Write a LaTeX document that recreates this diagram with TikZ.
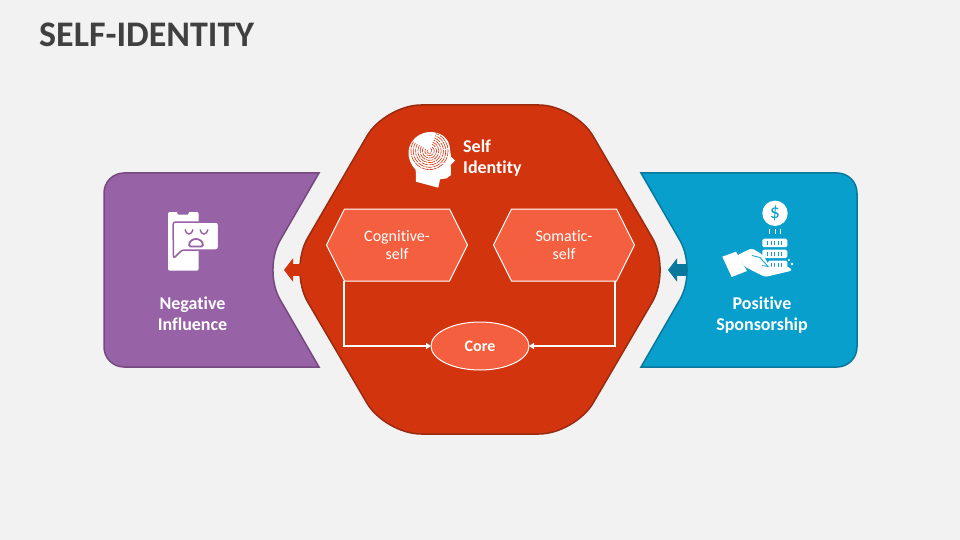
\documentclass[tikz,border=0pt]{standalone}
\usepackage{fontspec}
\setmainfont[Ligatures=NoCommon]{Carlito}
\usepackage{tikz}
\usetikzlibrary{arrows.meta}
\usetikzlibrary{shapes.geometric}
\usetikzlibrary{shapes.symbols}

\definecolor{pagegray}{HTML}{F2F2F2}
\definecolor{titlegray}{HTML}{404040}
\definecolor{selfred}{HTML}{D2340E}
\definecolor{selfedge}{HTML}{9A2A10}
\definecolor{innerred}{HTML}{F4603F}
\definecolor{negpurple}{HTML}{9762A6}
\definecolor{negedge}{HTML}{76497F}
\definecolor{posblue}{HTML}{089FCC}
\definecolor{posedge}{HTML}{0A789C}

\tikzset{
    sidelabel/.style={text=white, font=\fontsize{18}{21}\selectfont\bfseries, align=center},
    innerhex/.style={signal, signal to=west and east, signal pointer angle=127, draw=white, fill=innerred, line width=1pt,
        minimum width=141pt, minimum height=72pt, inner sep=0pt, outer sep=0pt, text=white,
        font=\fontsize{16}{18}\selectfont, align=center},
    link/.style={draw=white, line width=1.3pt, -{Triangle[length=5pt,width=6pt]}},
    bigarrow/.style={line width=12pt, -{Triangle[length=9pt,width=23pt]}},
}

\begin{document}
\begin{tikzpicture}[x=1pt, y=-1pt]

    \useasboundingbox (0,0) rectangle (960,540);
    \path[fill=pagegray] (0,0) rectangle (960,540);

    \node[anchor=west, inner sep=0pt, text=titlegray, font=\fontsize{36}{40}\selectfont\bfseries] (title) at (39,35) {SELF-IDENTITY};

    % draw the side panels
    \path[draw=negedge, fill=negpurple, line width=1.5pt] (319,173) [rounded corners=20pt] -- (104,173) -- (104,367) [rounded corners=0pt] -- (319,367) [rounded corners=34pt] -- (263,270) [rounded corners=0pt] -- cycle;
    \path[draw=posedge, fill=posblue, line width=1.5pt] (641,173) [rounded corners=20pt] -- (857,173) -- (857,367) [rounded corners=0pt] -- (641,367) [rounded corners=34pt] -- (697,270) [rounded corners=0pt] -- cycle;

    % draw the center hexagon
    \path[draw=selfedge, fill=selfred, line width=1.5pt] (480,105) [rounded corners=36pt] -- (385,105) [rounded corners=37pt] -- (289,270) [rounded corners=36pt] -- (385,434) -- (575,434) [rounded corners=37pt] -- (671,270) [rounded corners=36pt] -- (575,105) [rounded corners=0pt] -- cycle;

    % arrows between the hexagon and the panels
    \coordinate (selfwest) at (301,270);
    \coordinate (selfeast) at (687,270);
    \coordinate (negtip) at (284,270);
    \coordinate (postip) at (668,270);
    \draw[bigarrow, selfred] (selfwest) -- (negtip);
    \draw[bigarrow, posedge] (selfeast) -- (postip);

    \node[innerhex] (cog) at (397,245) {Cognitive-\\self};
    \node[innerhex] (som) at (564,245) {Somatic-\\self};
    \node[draw=white, fill=innerred, line width=1pt, ellipse, minimum width=98pt, minimum height=48pt, inner sep=0pt, outer sep=0pt, text=white, font=\fontsize{16}{18}\selectfont\bfseries] (core) at (480,346) {Core};

    \coordinate (cogfoot) at (344,281);
    \coordinate (somfoot) at (615,281);
    \draw[link] (cogfoot) |- (core);
    \draw[link] (somfoot) |- (core);

    \node[sidelabel, anchor=west, align=left, inner sep=0pt] (self) at (463,158) {Self\\Identity};
    \node[sidelabel] (neg) at (192.5,314) {Negative\\Influence};
    \node[sidelabel] (pos) at (762,315) {Positive\\Sponsorship};

    % head icon
    \path[fill=white] (408.5,152) .. controls (409,140) and (420,132) .. (430,132) .. controls (441,132) and (448,138) .. (449.5,146) -- (451,156.7) -- (455,160.7) -- (450.7,165) -- (451,175) -- (446.7,178.3) -- (440,179.3) -- (438.3,187.7) -- (416,181.7) -- (415.7,170) .. controls (411,165) and (408,158) .. (408.5,152) -- cycle;
    \foreach \rad/\dashoff in {2.5/0,4.8/1,7.1/2,9.4/0,11.7/1,14/3,16.3/2,18.6/1} {
        \path[draw=selfred, line width=0.6pt, dash pattern=on 7pt off 1pt, dash phase=\dashoff pt] (429.5,151) ++(210:\rad) arc (210:-70:\rad);
    }

    % phone icon
    \path[fill=white, rounded corners=2pt] (168,212) rectangle (198.7,270.7);
    \path[fill=negpurple] (177,212) -- (189,212) -- (188,214.5) -- (178,214.5) -- cycle;
    \path[draw=negpurple, fill=white, line width=1.5pt, rounded corners=2.5pt] (173,222) -- (218.5,222) -- (218.5,250) -- (182,250) -- (173.5,258.5) -- cycle;
    \path[draw=negpurple, line width=1.4pt] (185,229.5) .. controls (186,235.5) and (192,235.5) .. (193,229.5);
    \path[draw=negpurple, line width=1.4pt] (200,229.5) .. controls (201,235.5) and (207,235.5) .. (208,229.5);
    \path[draw=negpurple, line width=1.8pt, rounded corners=1.5pt] (189,246.5) .. controls (189.5,237) and (202.5,237) .. (203,246.5) -- cycle;

    % coin icon
    \path[fill=white] (775,213.3) circle (12.7);
    \node[inner sep=0pt, text=posblue, font=\fontsize{20}{20}\selectfont] (dollar) at (775,213.3) {\$};
    \foreach \xpos in {769,775,780.7} {
        \path[draw=white, line width=1pt] (\xpos,229) -- (\xpos,234);
    }
    \foreach \ypos/\xleft in {238.7/762.3,249.6/762.3,260.5/768} {
        \path[fill=white, rounded corners=1.5pt] (\xleft,\ypos) rectangle (787.3,\ypos+8.5);
        \foreach \tick in {1,...,5} {
            \path[draw=posblue, line width=0.8pt] (764+\tick*3.5,\ypos+2.2) -- (764+\tick*3.5,\ypos+6.3);
        }
    }

    % hand icon
    \path[fill=white] (722.3,256.7) -- (736,251.7) -- (747,271) -- (731.7,277) -- cycle;
    \path[fill=white, rounded corners=2pt] (737.3,255) -- (751.7,248.3) -- (761.7,254) -- (767.3,261.7) -- (769.3,266.5) -- (790.5,267.3) -- (791.7,270.7) -- (765,277) -- (755,272) -- (745,267) -- cycle;
    \path[draw=posblue, line width=0.8pt] (752,255.5) -- (760,257.5) -- (768,266.5) -- (762,265.5);
    \path[fill=white] (789,260) circle (1.2);
    \path[fill=white] (792,264) circle (1.4);

\end{tikzpicture}
\end{document}
